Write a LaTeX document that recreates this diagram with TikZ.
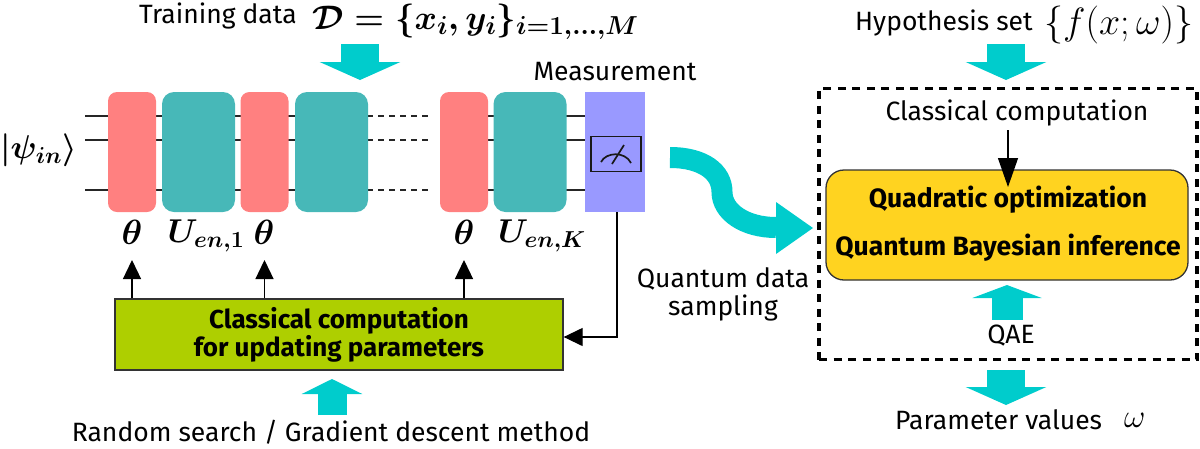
\RequirePackage{fix-cm}
\documentclass[tikz,border=0pt]{standalone}
\usepackage{fontspec}
\usepackage{amsmath}
\setmainfont{Fira Sans}
\usetikzlibrary{arrows.meta,calc}
\DeclareMathSizes{34}{34}{26}{20}
\definecolor{cyanA}{HTML}{00CCCC}
\definecolor{redG}{HTML}{FF8080}
\definecolor{tealG}{HTML}{47B8B8}
\definecolor{violetG}{HTML}{9999FF}
\definecolor{greenB}{HTML}{AECF00}
\definecolor{yellowB}{HTML}{FFD320}
\tikzset{
 x=1pt,y=-1pt,
 gate/.style={draw=none,rounded corners=9pt,inner sep=0pt,minimum height=120pt},
 redgate/.style={gate,fill=redG,minimum width=48pt},
 tealgate/.style={gate,fill=tealG,minimum width=73pt,rounded corners=12pt},
 wire/.style={draw=black!85,line width=1.5pt},
 dwire/.style={draw=black!85,line width=1.5pt,dash pattern=on 6pt off 5pt},
 lbl/.style={inner sep=0pt,font=\fontsize{26.5}{28}\selectfont},
 blbl/.style={lbl,font=\fontsize{26.5}{28}\selectfont\bfseries},
 mth/.style={inner sep=0pt,font=\fontsize{33}{35}\selectfont\boldmath},
 wide/.style={draw=cyanA,line width=38pt,-{Triangle[length=18pt,width=80pt]}},
 narrow/.style={draw=cyanA,line width=31pt,-{Triangle[length=13pt,width=69pt]}},
 thin/.style={draw=black,line width=1.3pt,-{Triangle[length=19pt,width=18pt]}},
}
\begin{document}
\begin{tikzpicture}
\useasboundingbox (0,0) rectangle (1200,448);
% wires
\coordinate (wa1) at (85,116); \coordinate (wa2) at (85,140); \coordinate (wa3) at (85,190);
\coordinate (wb1) at (367,116); \coordinate (wb2) at (367,140); \coordinate (wb3) at (367,190);
\coordinate (wc1) at (431,116); \coordinate (wc2) at (431,140); \coordinate (wc3) at (431,190);
\coordinate (wd1) at (440,116); \coordinate (wd2) at (440,140); \coordinate (wd3) at (440,190);
\coordinate (we1) at (585,116); \coordinate (we2) at (585,140); \coordinate (we3) at (585,190);
\foreach \i in {1,2,3}{
 \draw[wire] (wa\i) -- (wb\i);
 \draw[dwire] (wb\i) -- (wc\i);
 \draw[wire] (wd\i) -- (we\i);
}
% gates
\node[redgate] (r1) at (132,152) {};
\node[tealgate] (t1) at (198.5,152) {};
\node[redgate] (r2) at (264.5,152) {};
\node[tealgate] (t2) at (331.5,152) {};
\node[redgate] (r3) at (464,152) {};
\node[tealgate] (t3) at (530,152) {};
\node[fill=violetG,inner sep=0pt,minimum width=60pt,minimum height=120pt] (m) at (615,152) {};
\node[draw=black!90,line width=1.8pt,inner sep=0pt,minimum width=50pt,minimum height=35pt] (mbox) at (616,154) {};
\draw[black!90,line width=1.7pt] (601,162) .. controls (606,152) and (625,151) .. (631,163);
\draw[black!90,line width=1.7pt] (612,164) -- (624,145);
% labels top left
\node[lbl,anchor=west] (train) at (139,16) {Training data};
\node[mth,anchor=base west,font=\fontsize{34}{36}\selectfont\boldmath] (dset) at (312,29) {$\mathcal{D}=\{x_i,y_i\}_{i=1,\dots,M}$};
\node[mth,anchor=west] (psi) at (0,150) {$|\psi_{in}\rangle$};
\node[mth,font=\fontsize{35}{37}\selectfont\boldmath] (th1) at (132,232) {$\theta$};
\node[mth,font=\fontsize{35}{37}\selectfont\boldmath] (th2) at (264,232) {$\theta$};
\node[mth,font=\fontsize{35}{37}\selectfont\boldmath] (th3) at (464,232) {$\theta$};
\node[mth] (u1) at (206,236) {$U_{en,1}$};
\node[mth] (uk) at (542,236) {$U_{en,K}$};
\node[lbl] (meas) at (615,72) {Measurement};
% green box
\node[draw=black!80,line width=1.3pt,fill=greenB,inner sep=0pt,minimum width=448pt,minimum height=71pt,align=center,font=\fontsize{26}{28}\selectfont\bfseries] (g) at (339,334.5) {Classical computation\\for updating parameters};
\coordinate (a1) at (132,260); \coordinate (a2) at (264.5,260); \coordinate (a3) at (464,260);
\draw[thin] (a1 |- g.north) -- (a1);
\draw[thin] (a2 |- g.north) -- (a2);
\draw[thin] (a3 |- g.north) -- (a3);
\coordinate (mturn) at (617,337);
\draw[thin] (m.south -| mturn) -- (mturn) -- (g.east |- mturn);
\node[lbl] (rand) at (331,432) {Random search / Gradient descent method};
\coordinate (ra) at (332,415); \coordinate (rb) at (332,379);
\draw[wide,line width=29pt,-{Triangle[length=15pt,width=60pt]}] (ra) -- (rb);
% training arrow
\coordinate (ta) at (360,44); \coordinate (tb) at (360,80);
\draw[wide] (ta) -- (tb);
% curved arrow
\coordinate (ca) at (670,157.5); \coordinate (cm) at (722,192); \coordinate (cb) at (776,227.5); \coordinate (cc) at (813,228);
\draw[cyanA,line width=21pt] (ca) .. controls (703,157.5) and (722,172) .. (cm) .. controls (722,212) and (745,227.5) .. (cb);
\fill[cyanA] (cc) -- (776,202) -- (776,254) -- cycle;
\node[lbl,align=center] (qds) at (723,294) {Quantum data\\sampling};
% right
\node[lbl,anchor=west] (hyp) at (855,23) {Hypothesis set};
\node[inner sep=0pt,anchor=west,font=\fontsize{38}{40}\selectfont] (fset) at (1044,25) {$\{f(x;\omega)\}$};
\coordinate (ha) at (1006,44); \coordinate (hb) at (1006,80);
\draw[wide] (ha) -- (hb);
\node[draw=black,line width=3.5pt,dash pattern=on 8pt off 6.5pt,inner sep=0pt,minimum width=378pt,minimum height=271pt] (dash) at (1008,224) {};
\node[lbl] (cc2) at (1017,113) {Classical computation};
\node[draw=black!80,line width=1.3pt,fill=yellowB,rounded corners=18pt,inner sep=0pt,minimum width=362pt,minimum height=110pt] (y) at (1007,225) {};
\coordinate (yt) at (1008,187); \coordinate (ys) at (1008,130);
\draw[thin,-{Triangle[length=29pt,width=20pt]}] (ys) -- (yt);
\node[blbl] (q1) at (1008,200) {Quadratic optimization};
\node[blbl] (q2) at (1008,248) {Quantum Bayesian inference};
\coordinate (qa) at (1007,320); \coordinate (qb) at (1007,285);
\draw[narrow] (qa) -- (qb);
\node[lbl] (qae) at (1011,336) {QAE};
\coordinate (pa) at (1006,370); \coordinate (pb) at (1006,405);
\draw[wide] (pa) -- (pb);
\node[lbl,anchor=west] (par) at (895,420) {Parameter values};
\node[inner sep=0pt,anchor=west,font=\fontsize{33}{35}\selectfont] (om) at (1124,420) {$\omega$};
\end{tikzpicture}
\end{document}
